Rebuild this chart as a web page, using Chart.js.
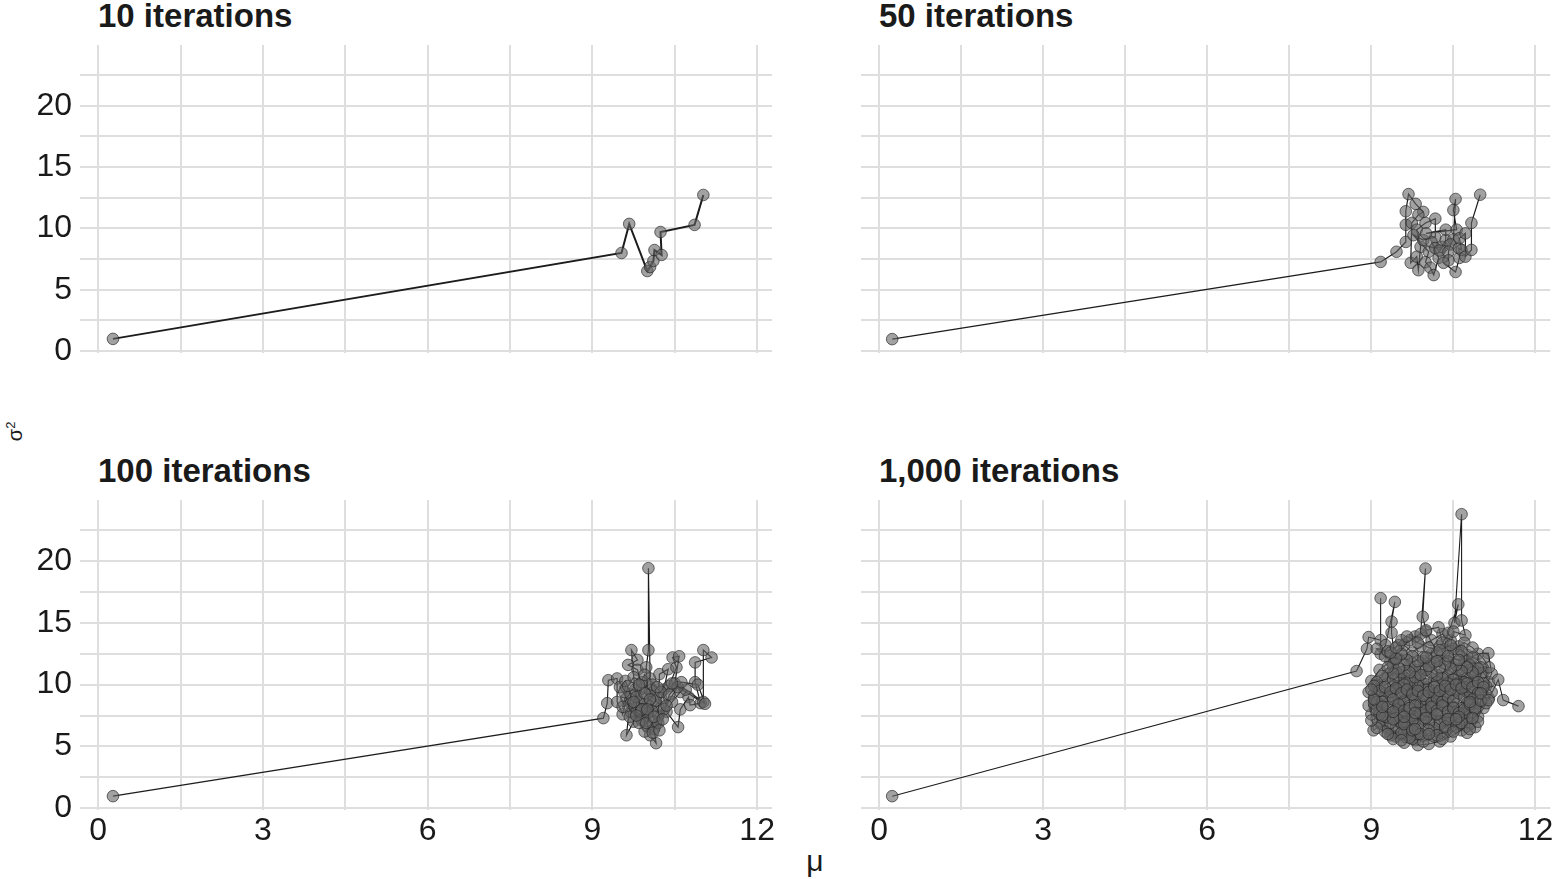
<!DOCTYPE html>
<html>
<head>
<meta charset="utf-8">
<script src="https://cdn.jsdelivr.net/npm/chart.js@4.4.1/dist/chart.umd.min.js"></script>
<style>
  body { margin: 0; background: #fff; width: 1557px; height: 879px; overflow: hidden; position: relative;
         font-family: "Liberation Sans", Arial, Helvetica, sans-serif; }
  canvas { position: absolute; }
  .title { position: absolute; font-weight: bold; font-size: 33px; line-height: 33px; color: #1a1a1a; white-space: nowrap; }
  .axis-title { position: absolute; color: #1a1a1a; white-space: nowrap; }
</style>
</head>
<body>
<div class="axis-title" id="xlab" style="left:800px;top:846px;width:30px;text-align:center;font-size:30px;line-height:30px;">μ</div>
<div class="axis-title" id="ylab" style="left:-10px;top:419px;width:46px;text-align:center;font-size:20px;line-height:20px;transform:rotate(-90deg);">σ<sup style="font-size:13px;">2</sup></div>

<script>
// ASSI
const xTickLabels = [0, 3, 6, 9, 12];
const yTickLabels = [0, 5, 10, 15, 20];
const xMin = -0.33, xMax = 12.27;
const yMin = -0.15, yMax = 24.95;

const panelTitles = ['10 iterations', '50 iterations', '100 iterations', '1,000 iterations'];

// DATI: 10 iterazioni
const mu10 = [0.27, 9.53, 9.67, 10.0, 10.05, 10.11, 10.13, 10.26, 10.24, 10.86, 11.02];
const sigma10 = [1.0, 8.0, 10.37, 6.53, 6.86, 7.35, 8.24, 7.84, 9.71, 10.29, 12.73];

// DATI: 50 iterazioni
const mu50 = [0.24, 9.17, 9.46, 9.63, 9.63, 9.63, 9.68, 9.81, 9.95, 9.86,
  9.74, 9.72, 9.83, 9.86, 9.9, 9.83, 9.99, 10.17, 10.17, 9.95,
  9.77, 10.05, 9.99, 10.08, 10.14, 10.23, 10.1, 10.17, 10.3, 10.25,
  10.36, 10.36, 10.0, 10.56, 10.5, 10.54, 10.5, 10.45, 10.41, 10.41,
  10.32, 10.54, 10.61, 10.6, 10.65, 10.61, 10.72, 10.72, 10.83, 10.83, 10.99];
const sigma50 = [0.98, 7.27, 8.1, 8.9, 10.3, 11.4, 12.8, 12.0, 11.35, 11.1,
  10.45, 7.2, 7.7, 6.6, 8.5, 9.9, 10.45, 10.8, 9.3, 9.05,
  9.45, 8.1, 7.25, 6.8, 6.2, 7.6, 8.9, 8.4, 8.5, 8.2,
  9.05, 9.9, 9.6, 9.9, 11.5, 12.4, 9.1, 8.7, 8.1, 7.4,
  7.2, 6.45, 7.6, 8.4, 8.25, 9.2, 9.6, 7.7, 8.25, 10.45, 12.75];

// DATI: 100 iterazioni
const mu100 = [0.27, 9.2, 9.27, 9.29, 9.45, 9.45, 9.55, 9.62, 9.5, 9.6,
  9.7, 9.62, 9.75, 9.8, 9.71, 9.82, 9.65, 9.82, 9.9, 9.85,
  9.95, 10.0, 9.98, 10.02, 10.02, 10.05, 10.1, 10.0, 10.05, 10.16,
  10.12, 10.2, 10.22, 10.38, 10.3, 10.2, 9.9, 9.7, 9.58, 9.78,
  9.92, 10.08, 10.25, 10.4, 10.53, 10.46, 10.58, 10.5, 10.6, 10.45,
  10.35, 10.56, 10.6, 10.75, 10.78, 10.97, 10.87, 10.87, 11.17, 11.02,
  11.02, 10.7, 10.55, 10.3, 10.15, 9.95, 9.85, 9.7, 9.55, 9.65,
  9.75, 9.9, 10.05, 10.15, 10.0, 9.88, 9.8, 9.95, 10.1, 10.25,
  10.35, 10.2, 10.1, 9.98, 9.9, 10.05, 10.18, 9.95, 9.85, 9.75,
  9.68, 9.8, 10.0, 10.12, 10.22, 10.28, 10.4, 10.62, 10.92, 11.05, 10.45];
const sigma100 = [0.97, 7.29, 8.5, 10.36, 10.5, 8.6, 7.6, 8.9, 9.8, 10.3,
  9.2, 5.9, 7.0, 8.2, 12.8, 12.0, 11.6, 11.2, 9.9, 8.6,
  7.4, 8.4, 11.4, 12.8, 19.43, 10.5, 9.1, 6.6, 5.9, 5.26,
  6.4, 7.5, 10.85, 11.25, 9.6, 8.3, 7.1, 7.8, 9.4, 9.6,
  8.9, 7.9, 8.9, 9.9, 11.4, 12.2, 12.3, 10.1, 9.4, 8.6,
  7.8, 6.56, 8.0, 9.0, 8.34, 8.5, 10.2, 11.8, 12.2, 12.8,
  8.6, 9.6, 9.8, 8.0, 7.0, 6.2, 6.9, 8.5, 8.2, 9.9,
  10.6, 10.2, 9.5, 8.7, 7.7, 7.9, 9.0, 9.3, 10.0, 9.4,
  8.3, 6.9, 6.1, 6.9, 8.0, 8.8, 9.8, 10.8, 10.0, 8.6,
  7.4, 7.5, 8.0, 7.4, 6.3, 7.2, 9.2, 10.2, 10.0, 8.45, 10.1];

// DATI: 1000 iterazioni (punti letti a occhio dalla nuvola)
const mu1000 = [0.24, 8.73, 8.92, 8.95, 9.17, 9.17, 9.17, 9.26, 9.43, 9.37, 9.37, 9.43,
  9.3, 9.5, 9.4, 9.25, 9.1, 9.0, 9.15, 9.35, 9.55, 9.7,
  9.85, 10.05, 10.25, 10.4, 10.6, 10.75, 10.9, 11.05, 11.15, 11.0,
  10.85, 10.7, 10.55, 10.4, 10.2, 10.0, 9.8, 9.6, 9.45, 9.3,
  9.15, 9.0, 8.95, 9.05, 9.2, 9.35, 9.5, 9.65, 9.8, 9.95,
  10.1, 10.25, 10.4, 10.55, 10.7, 10.85, 10.65, 10.45, 10.3, 10.15,
  10.0, 9.85, 9.7, 9.55, 9.4, 9.55, 9.7, 9.85, 10.0, 10.15,
  10.3, 10.5, 10.7, 10.95, 11.14, 11.2, 11.1, 11.15, 11.05, 10.95,
  10.8, 10.65, 10.45, 10.25, 10.05, 9.85, 9.65, 9.5, 9.35, 9.2,
  9.04, 8.95, 9.1, 9.25, 9.45, 9.6, 9.75, 9.9, 10.05, 10.2,
  10.35, 10.5, 10.65, 10.85, 10.95, 10.8, 10.6, 10.4, 10.25, 10.1,
  9.95, 9.8, 9.65, 9.5, 9.35, 9.5, 9.65, 9.8, 9.95, 10.1,
  10.25, 10.45, 10.3, 10.1, 9.9, 9.75, 9.6, 9.8, 10.0, 10.2,
  10.41, 10.59, 10.52, 10.65, 10.65, 10.72, 10.5,
  10.4, 10.6, 10.8, 11.01, 10.9, 10.75, 10.55, 10.35, 10.15, 9.95,
  9.75, 9.6, 9.45, 9.3, 9.15, 9.05, 9.2, 9.4, 9.6, 9.8,
  9.95, 10.1, 10.25, 10.4, 10.6, 10.75, 10.9, 11.1, 11.2, 11.05,
  10.9, 10.7, 10.5, 10.3, 10.1, 9.9, 9.75, 9.6, 9.45, 9.6,
  9.75, 9.95, 10.15, 10.35, 10.55, 10.75, 10.9, 10.7, 10.5, 10.3,
  10.15, 10.0, 9.85, 9.7, 9.55, 9.4, 9.25, 9.1, 9.3, 9.5,
  9.7, 9.9, 9.99, 9.94, 10.0, 10.23, 10.3, 10.5, 10.7, 10.85, 11.05, 11.15, 11.0,
  10.8, 10.6, 10.4, 10.2, 10.0, 9.8, 9.6, 9.4, 9.2, 9.1,
  9.6, 9.7, 9.8, 9.9, 10.0, 10.1, 10.2, 10.3, 10.4, 10.5,
  10.6, 10.7, 10.8, 10.7, 10.6, 10.5, 10.4, 10.3, 10.2, 10.1,
  10.0, 9.9, 9.8, 9.7, 9.6, 9.5, 9.4, 9.3, 9.2, 9.1,
  9.05, 9.15, 9.25, 9.35, 9.45, 9.55, 9.65, 9.75, 9.85, 9.95,
  10.05, 10.15, 10.25, 10.35, 10.45, 10.55, 10.65, 10.75, 10.85, 10.95,
  11.05, 10.95, 10.85, 10.75, 10.65, 10.55, 10.45, 10.35, 10.25, 10.15,
  10.05, 9.95, 9.85, 9.75, 9.65, 9.55, 9.45, 9.35, 9.25, 9.15,
  9.1, 9.2, 9.3, 9.4, 9.5, 9.6, 9.7, 9.8, 9.9, 10.0,
  10.1, 10.2, 10.3, 10.4, 10.5, 10.6, 10.7, 10.8, 10.9, 11.0,
  10.95, 10.85, 10.75, 10.65, 10.55, 10.45, 10.35, 10.25, 10.15, 10.05,
  9.95, 9.85, 9.75, 9.65, 9.55, 9.45, 9.35, 9.45, 9.55, 9.65,
  9.85, 10.05, 10.25, 10.45, 10.65, 10.85, 10.6, 10.4, 10.2, 10.0,
  9.85, 9.7, 9.55, 9.4, 9.25, 9.1, 9.0, 9.2, 9.4, 9.6,
  9.75, 9.9, 10.05, 10.2, 10.35, 10.5, 10.65, 10.8, 10.95, 10.85,
  10.6, 10.4, 10.2, 10.0, 9.8, 9.6, 9.4, 9.2, 9.05, 9.0,
  9.3, 9.55, 9.8, 10.05, 10.3, 10.55, 10.8, 11.0, 11.14, 11.32, 11.41, 11.69];
const sigma1000 = [0.97, 11.1, 12.9, 13.85, 13.6, 17.0, 12.5, 13.2, 16.7, 15.1, 14.2, 12.0,
  10.8, 10.2, 9.5, 9.0, 9.6, 10.3, 11.2, 11.9, 12.4, 11.6,
  10.9, 11.5, 12.0, 12.6, 13.1, 12.4, 11.7, 11.0, 10.2, 9.5,
  8.9, 8.2, 7.5, 6.9, 6.4, 5.9, 5.5, 5.3, 5.8, 6.4,
  7.0, 7.6, 8.3, 8.9, 8.3, 7.7, 7.1, 6.6, 6.2, 6.7,
  7.2, 7.8, 8.4, 9.0, 9.6, 10.3, 10.8, 10.2, 9.6, 9.0,
  8.4, 7.8, 7.3, 7.9, 8.5, 9.1, 9.7, 10.3, 9.8, 10.4,
  10.9, 11.4, 11.9, 12.5, 12.55, 10.9, 9.9, 8.9, 8.1, 7.4,
  6.8, 6.3, 5.8, 5.4, 5.2, 5.1, 5.9, 6.5, 5.9, 6.8,
  6.3, 9.4, 10.0, 10.5, 11.1, 10.6, 10.1, 9.4, 9.1, 8.6,
  8.1, 7.6, 7.1, 7.8, 8.5, 9.2, 9.9, 9.4, 8.9, 8.1,
  7.6, 7.0, 7.6, 8.3, 9.1, 9.9, 10.5, 11.2, 11.9, 12.5,
  13.1, 13.6, 14.1, 13.6, 13.1, 12.6, 13.2, 13.9, 14.3, 12.6,
  14.2, 16.5, 15.0, 23.8, 15.2, 14.0, 14.3,
  11.9, 12.4, 11.2, 10.9, 9.9, 10.5, 10.6, 10.0, 9.5, 10.0,
  9.3, 8.7, 8.0, 7.3, 7.9, 8.5, 9.2, 9.8, 9.4, 8.8,
  8.2, 7.6, 7.0, 6.4, 6.8, 7.4, 8.0, 8.5, 9.4, 10.1,
  10.8, 10.2, 9.6, 9.1, 8.6, 8.0, 7.5, 7.0, 6.6, 6.1,
  5.6, 5.4, 5.8, 6.2, 6.6, 6.1, 6.56, 7.7, 8.2, 8.6,
  9.2, 9.6, 9.9, 10.3, 11.0, 11.7, 12.3, 12.9, 12.7, 13.2,
  13.6, 14.1, 19.4, 15.5, 14.4, 14.65, 13.4, 12.9, 13.4, 13.0, 12.1, 11.4, 11.4,
  11.6, 11.2, 10.7, 10.2, 10.5, 10.6, 10.0, 10.4, 9.8, 8.6,
  8.6, 8.3, 8.7, 8.4, 8.8, 8.5, 8.9, 8.6, 9.0, 8.7,
  9.3, 9.0, 9.4, 9.8, 10.0, 10.4, 10.1, 10.5, 10.8, 11.0,
  11.2, 10.8, 11.5, 11.0, 11.6, 11.3, 10.9, 11.4, 10.7, 10.2,
  9.9, 9.5, 9.8, 9.4, 9.7, 9.3, 9.6, 9.2, 9.5, 9.1,
  9.4, 9.8, 9.5, 9.9, 9.6, 10.0, 9.7, 10.1, 9.8, 10.2,
  9.8, 9.3, 8.8, 8.5, 8.1, 7.8, 7.4, 7.1, 6.8, 6.5,
  6.9, 7.2, 6.7, 7.1, 6.5, 6.9, 7.3, 6.9, 7.4, 7.6,
  8.0, 8.6, 8.2, 8.8, 8.4, 7.9, 8.1, 8.3, 7.7, 7.9,
  8.2, 7.9, 8.3, 7.8, 8.1, 7.7, 8.0, 8.4, 8.1, 8.7,
  11.3, 11.0, 11.4, 11.1, 11.6, 11.3, 11.7, 11.4, 11.8, 11.5,
  12.2, 11.9, 12.3, 12.0, 12.5, 12.1, 12.6, 13.0, 13.6, 13.9,
  13.4, 13.0, 12.8, 13.2, 12.7, 12.2, 12.0, 12.3, 11.9, 12.2,
  6.0, 5.7, 6.1, 5.6, 6.2, 6.5, 7.1, 7.5, 7.2, 6.8,
  6.3, 6.0, 6.3, 5.9, 6.6, 6.2, 6.9, 6.4, 7.0, 7.3,
  7.4, 7.2, 7.6, 7.3, 7.7, 7.4, 7.8, 8.2, 8.8, 9.6,
  6.0, 5.5, 6.4, 6.0, 5.6, 7.2, 8.6, 9.3, 8.75, 10.4, 8.75, 8.26];

// STILE
const gridColor = '#dedede';
const textColor = '#1a1a1a';
Chart.defaults.font.family = '"Liberation Sans", Arial, Helvetica, sans-serif';

// PANNELLI
const panels = [
  { title: panelTitles[0], mu: mu10, sigma: sigma10, left: 0, top: 37, w: 780, h: 335, showX: false, showY: true, line: 2 },
  { title: panelTitles[1], mu: mu50, sigma: sigma50, left: 781, top: 37, w: 776, h: 335, showX: false, showY: false, line: 1.2 },
  { title: panelTitles[2], mu: mu100, sigma: sigma100, left: 0, top: 492, w: 780, h: 370, showX: true, showY: true, line: 1.2 },
  { title: panelTitles[3], mu: mu1000, sigma: sigma1000, left: 781, top: 492, w: 776, h: 370, showX: true, showY: false, line: 1.1 }
];

panels.forEach(p => {
  const t = document.createElement('div');
  t.className = 'title';
  t.textContent = p.title;
  t.style.left = (p.left + 98) + 'px';
  t.style.top = (p.top - 38) + 'px';
  document.body.appendChild(t);

  const canvas = document.createElement('canvas');
  canvas.width = p.w;
  canvas.height = p.h;
  canvas.style.left = p.left + 'px';
  canvas.style.top = p.top + 'px';
  canvas.style.width = p.w + 'px';
  canvas.style.height = p.h + 'px';
  document.body.appendChild(canvas);

  const xAxisH = p.showX ? 42 : 0;
  const chartBottom = 318 - (p.showX ? 0 : 2);

  new Chart(canvas, {
    type: 'scatter',
    data: {
      datasets: [{
        data: p.mu.map((m, i) => ({ x: m, y: p.sigma[i] })),
        showLine: true,
        tension: 0,
        borderColor: '#1c1c1c',
        borderWidth: p.line,
        pointRadius: 5.8,
        pointHoverRadius: 5.8,
        pointBorderWidth: 1,
        pointBackgroundColor: 'rgba(100,100,100,0.6)',
        pointBorderColor: 'rgba(35,35,35,0.65)'
      }]
    },
    options: {
      responsive: false,
      animation: false,
      events: [],
      layout: { padding: { top: 8, left: 0, right: p.w - 772, bottom: p.h - chartBottom - xAxisH } },
      plugins: { legend: { display: false }, tooltip: { enabled: false } },
      scales: {
        x: {
          type: 'linear', min: xMin, max: xMax,
          border: { display: false },
          grid: { color: gridColor, lineWidth: 2, drawTicks: false },
          ticks: {
            display: p.showX, stepSize: 1.5, autoSkip: false, maxRotation: 0, includeBounds: false,
            maxTicksLimit: 30, padding: 2, color: textColor, font: { size: 32 },
            callback: v => xTickLabels.includes(v) ? String(v) : ''
          },
          afterFit: s => { s.height = xAxisH; s.paddingLeft = 0; s.paddingRight = 0; }
        },
        y: {
          type: 'linear', min: yMin, max: yMax,
          border: { display: false },
          grid: { color: gridColor, lineWidth: 2, drawTicks: false },
          ticks: {
            display: p.showY, stepSize: 2.5, autoSkip: false, includeBounds: false,
            maxTicksLimit: 30, padding: 8, color: textColor, font: { size: 32 },
            callback: v => yTickLabels.includes(v) ? String(v) : ''
          },
          afterFit: s => { s.width = 80; s.paddingTop = 0; s.paddingBottom = 0; }
        }
      }
    }
  });
});
</script>
</body>
</html>
